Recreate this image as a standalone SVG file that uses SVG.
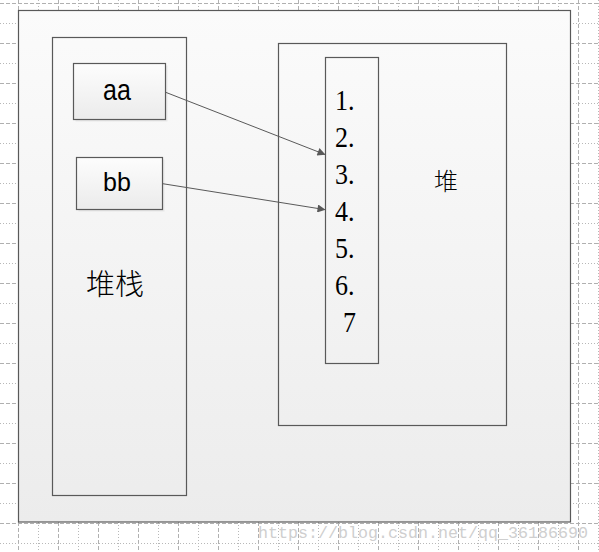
<svg xmlns="http://www.w3.org/2000/svg" width="599" height="552" viewBox="0 0 599 552">
<style>
.gd{stroke:#b0b0b0;stroke-width:1;stroke-dasharray:4 2;fill:none}
.gt{stroke:#b8b8b8;stroke-width:1;stroke-dasharray:1 2;fill:none}
.box{stroke:#595959;stroke-width:1.2}
.lbl{font-family:"Liberation Sans",Arial,sans-serif;font-size:25px;fill:#000;text-anchor:middle}
.num{font-family:"Liberation Serif","Times New Roman",serif;font-size:26px;fill:#000}
.cjk{font-family:"Noto Sans CJK SC",sans-serif;fill:#000}
.conn{stroke:#595959;stroke-width:1;fill:none;marker-end:url(#arr)}
</style>
<defs>
<linearGradient id="bg" gradientUnits="userSpaceOnUse" x1="0" y1="10" x2="0" y2="522">
<stop offset="0" stop-color="#fbfbfb"/><stop offset="1" stop-color="#ececec"/>
</linearGradient>
<linearGradient id="bx" x1="0" y1="0" x2="0" y2="1">
<stop offset="0" stop-color="#fdfdfd"/><stop offset="1" stop-color="#ebebeb"/>
</linearGradient>
<marker id="arr" viewBox="0 0 10 10" refX="10" refY="5" markerWidth="10" markerHeight="8" markerUnits="userSpaceOnUse" orient="auto">
<path d="M0,0 L10,5 L0,10 Z" fill="#595959"/>
</marker>
</defs>
<rect width="599" height="552" fill="#ffffff"/>
<g id="grid">
<path class="gd" d="M18.5,0V552M58.5,0V552M98.5,0V552M138.5,0V552M178.5,0V552M218.5,0V552M258.5,0V552M298.5,0V552M338.5,0V552M378.5,0V552M418.5,0V552M458.5,0V552M498.5,0V552M538.5,0V552M578.5,0V552"/>
<path class="gt" d="M38.5,0V552M78.5,0V552M118.5,0V552M158.5,0V552M198.5,0V552M238.5,0V552M278.5,0V552M318.5,0V552M358.5,0V552M398.5,0V552M438.5,0V552M478.5,0V552M518.5,0V552M558.5,0V552M598.5,0V552"/>
<path class="gd" d="M0,3.5H599M0,43.5H599M0,83.5H599M0,123.5H599M0,163.5H599M0,203.5H599M0,243.5H599M0,283.5H599M0,323.5H599M0,363.5H599M0,403.5H599M0,443.5H599M0,483.5H599M0,523.5H599"/>
<path class="gt" d="M0,23.5H599M0,63.5H599M0,103.5H599M0,143.5H599M0,183.5H599M0,223.5H599M0,263.5H599M0,303.5H599M0,343.5H599M0,383.5H599M0,423.5H599M0,463.5H599M0,503.5H599M0,543.5H599"/>
</g>
<rect id="canvas" x="18.5" y="10.5" width="552" height="511.5" fill="url(#bg)" class="box"/>
<g id="stack">
<rect x="52.5" y="37.5" width="134" height="458" fill="url(#bg)" class="box"/>
<text class="cjk" x="86" y="295" font-size="29" font-weight="300">堆栈</text>
</g>
<g id="heap">
<rect x="278.5" y="43.5" width="228" height="382" fill="url(#bg)" class="box"/>
<text class="cjk" x="434" y="190" font-size="24" font-weight="300">堆</text>
</g>
<g id="list">
<rect x="325.5" y="57.5" width="53" height="306" fill="url(#bg)" class="box"/>
<g transform="translate(0,0)">
<text class="num" transform="translate(335,110) scale(1,1.1)">1.</text>
<text class="num" transform="translate(335,147) scale(1,1.1)">2.</text>
<text class="num" transform="translate(335,184) scale(1,1.1)">3.</text>
<text class="num" transform="translate(335,221) scale(1,1.1)">4.</text>
<text class="num" transform="translate(335,258) scale(1,1.1)">5.</text>
<text class="num" transform="translate(335,295) scale(1,1.1)">6.</text>
<text class="num" transform="translate(343,332) scale(1,1.1)">7</text>
</g>
</g>
<g id="aa">
<rect x="75.5" y="65.5" width="92" height="56" fill="#dedede" opacity="0.6"/>
<rect x="73.5" y="63.5" width="92" height="56" fill="url(#bx)" class="box"/>
<text class="lbl" transform="translate(117,100) scale(1,1.15)">aa</text>
</g>
<g id="bb">
<rect x="78.5" y="159.5" width="86" height="52" fill="#dedede" opacity="0.6"/>
<rect x="76.5" y="157.5" width="86" height="52" fill="url(#bx)" class="box"/>
<text class="lbl" transform="translate(117,190.5) scale(1,1.05)">bb</text>
</g>
<g id="connectors">
<path class="conn" d="M165.7,92.3L325.5,154.7"/>
<path class="conn" d="M162.7,183.7L325.5,209.7"/>
</g>
<text x="258" y="537.5" font-family="'Liberation Mono','Courier New',monospace" font-size="17" fill="#cfcfcf" textLength="330" lengthAdjust="spacingAndGlyphs">https://blog.csdn.net/qq_36186690</text>
</svg>
